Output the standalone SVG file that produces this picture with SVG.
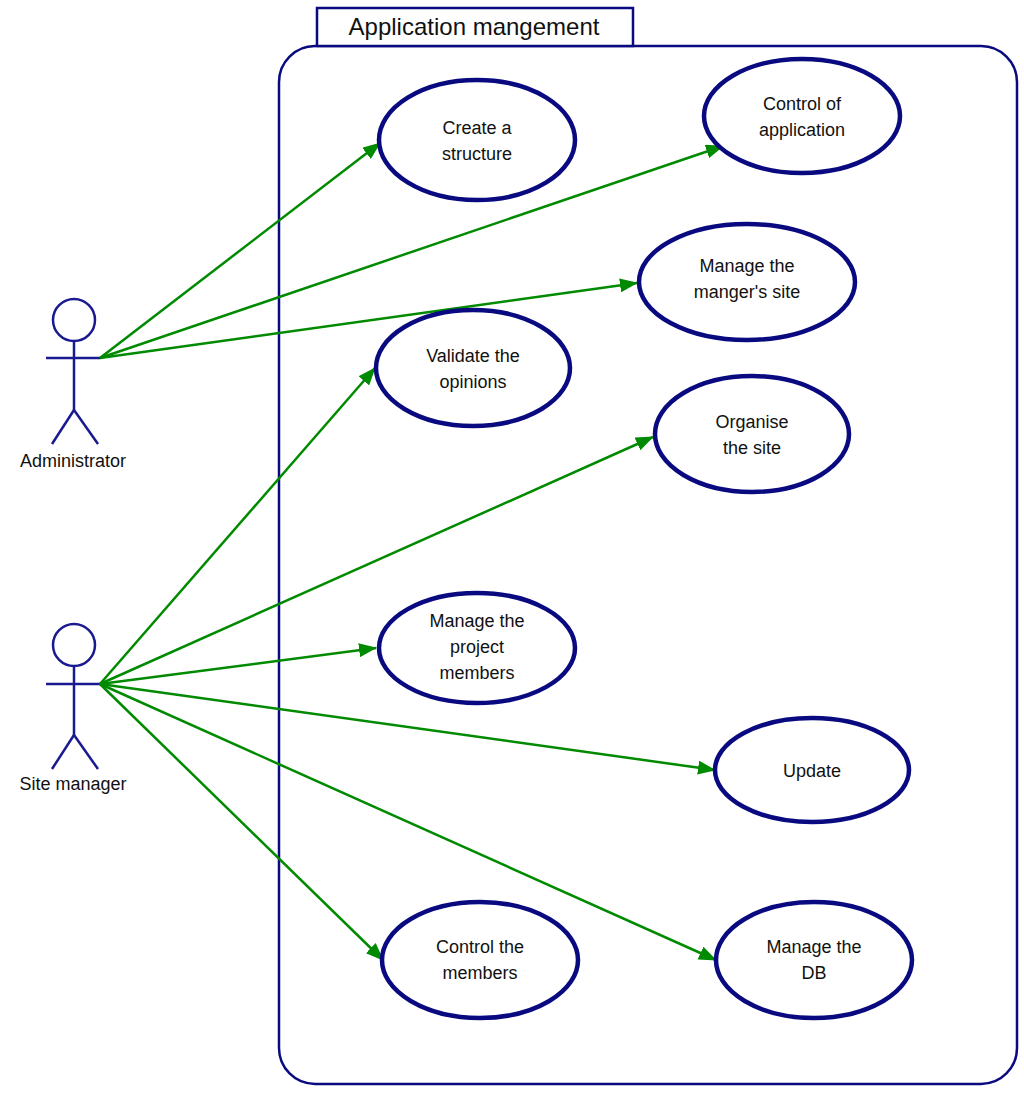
<svg xmlns="http://www.w3.org/2000/svg" width="1024" height="1096" viewBox="0 0 1024 1096">
<defs>
<style>
.uc{fill:#fff;stroke:#0a0a80;stroke-width:4.5}
.act{fill:none;stroke:#1a1a90;stroke-width:2.5}
.t{font-family:"Liberation Sans",Arial,sans-serif;font-size:18px;fill:#111;text-anchor:middle}
.c line{stroke:#008a00;stroke-width:2.5;marker-end:url(#ah)}
</style>
<marker id="ah" markerWidth="18" markerHeight="14" refX="17" refY="7" orient="auto" markerUnits="userSpaceOnUse" viewBox="0 0 18 14"><path d="M0,0 L18,7 L0,14 z" fill="#008a00"/></marker>
</defs>
<rect width="1024" height="1096" fill="#fff"/>
<g id="frame">
<rect x="279" y="46" width="738" height="1038" rx="36" fill="none" stroke="#0a0a80" stroke-width="2.5"/>
<rect x="317" y="8" width="316" height="38" fill="#fff" stroke="#0a0a80" stroke-width="2.5"/>
<text x="474" y="35" style="font-family:'Liberation Sans',Arial,sans-serif;font-size:24px;fill:#111;text-anchor:middle">Application mangement</text>
</g>
<g id="admin" class="act">
<circle cx="74" cy="320" r="21"/>
<line x1="74" y1="341" x2="74" y2="410"/><line x1="46" y1="358" x2="100" y2="358"/>
<line x1="74" y1="410" x2="52" y2="444"/><line x1="74" y1="410" x2="98" y2="444"/>
<text class="t" x="73" y="467" style="stroke:none">Administrator</text>
</g>
<g id="sitemanager" class="act">
<circle cx="74" cy="645" r="21"/>
<line x1="74" y1="666" x2="74" y2="735"/><line x1="46" y1="684" x2="100" y2="684"/>
<line x1="74" y1="735" x2="52" y2="769"/><line x1="74" y1="735" x2="98" y2="769"/>
<text class="t" x="73" y="790" style="stroke:none">Site manager</text>
</g>
<g class="c" id="connectors">
<line x1="100" y1="358" x2="380" y2="143"/>
<line x1="100" y1="358" x2="723" y2="146"/>
<line x1="100" y1="358" x2="637" y2="283"/>
<line x1="100" y1="684" x2="375" y2="368"/>
<line x1="100" y1="684" x2="653" y2="437"/>
<line x1="100" y1="684" x2="376" y2="648"/>
<line x1="100" y1="684" x2="715" y2="770"/>
<line x1="100" y1="684" x2="383" y2="960"/>
<line x1="100" y1="684" x2="716" y2="960"/>
</g>
<g id="uc1"><ellipse class="uc" cx="477" cy="140" rx="98" ry="60"/><text class="t" x="477" y="134">Create a</text><text class="t" x="477" y="160">structure</text></g>
<g id="uc2"><ellipse class="uc" cx="802" cy="116" rx="98" ry="57"/><text class="t" x="802" y="110">Control of</text><text class="t" x="802" y="136">application</text></g>
<g id="uc3"><ellipse class="uc" cx="747" cy="282" rx="108" ry="58"/><text class="t" x="747" y="272">Manage the</text><text class="t" x="747" y="298">manger's site</text></g>
<g id="uc4"><ellipse class="uc" cx="473" cy="368" rx="97" ry="58"/><text class="t" x="473" y="362">Validate the</text><text class="t" x="473" y="388">opinions</text></g>
<g id="uc5"><ellipse class="uc" cx="752" cy="434" rx="97" ry="58"/><text class="t" x="752" y="428">Organise</text><text class="t" x="752" y="454">the site</text></g>
<g id="uc6"><ellipse class="uc" cx="477" cy="648" rx="98" ry="55"/><text class="t" x="477" y="627">Manage the</text><text class="t" x="477" y="653">project</text><text class="t" x="477" y="679">members</text></g>
<g id="uc7"><ellipse class="uc" cx="812" cy="770" rx="97" ry="52"/><text class="t" x="812" y="777">Update</text></g>
<g id="uc8"><ellipse class="uc" cx="480" cy="960" rx="98" ry="58"/><text class="t" x="480" y="953">Control the</text><text class="t" x="480" y="979">members</text></g>
<g id="uc9"><ellipse class="uc" cx="814" cy="960" rx="98" ry="58"/><text class="t" x="814" y="953">Manage the</text><text class="t" x="814" y="979">DB</text></g>
</svg>
